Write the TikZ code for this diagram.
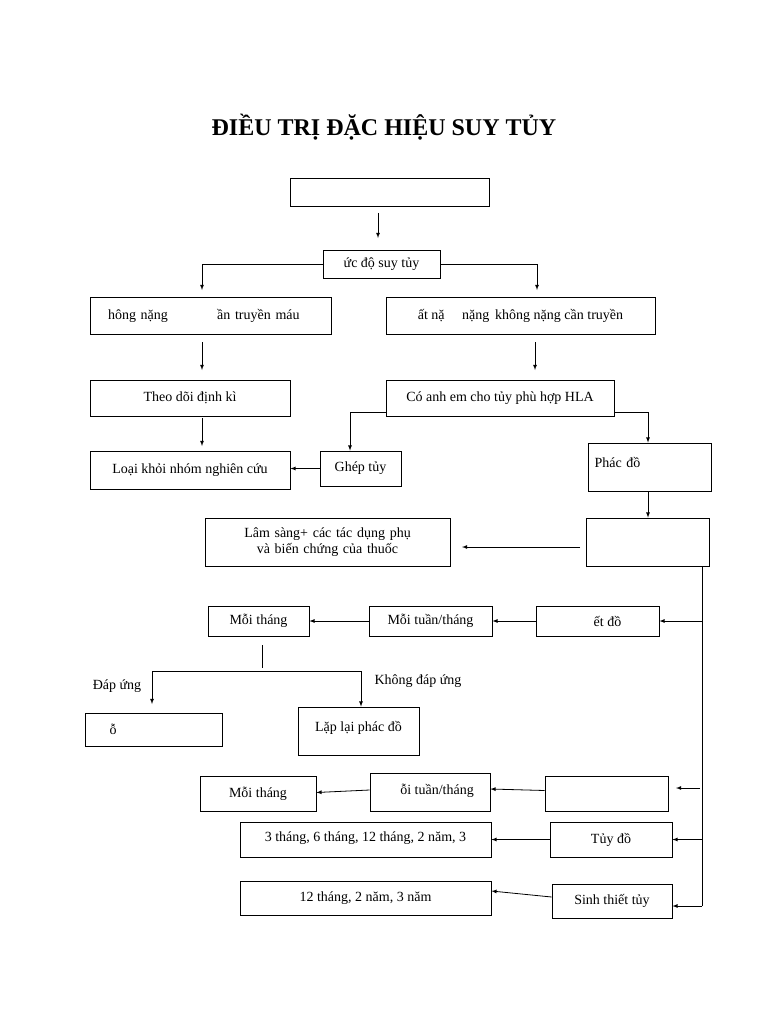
\documentclass[tikz,border=0pt]{standalone}
\usepackage{fontspec}
\setmainfont{Liberation Serif}
\usetikzlibrary{positioning,calc}
\tikzset{
  box/.style={draw, thick, inner sep=2pt, font=\fontsize{14}{16}\selectfont},
  arr/.style={-latex, thick},
  ln/.style={thick},
  lbl/.style={font=\fontsize{14}{16}\selectfont}
}
\begin{document}
\begin{tikzpicture}[x=1pt,y=-1pt]
    \useasboundingbox (0,0) rectangle (768,1024);
    % title
    \node[font=\bfseries\fontsize{24}{28}\selectfont] (title) at (384,127) {ĐIỀU TRỊ ĐẶC HIỆU SUY TỦY};

    % upper part
    \node[box, minimum width=199, minimum height=28] (top) at (389.5,192) {};
    \node[box, minimum width=117, minimum height=28] (muc) at (381.5,264) {ức độ suy tủy};
    \node[box, minimum width=241, minimum height=37, text width=233, align=left] (khong) at (210.5,315.5) {\hspace{14pt}hông nặng \hspace{40pt} ần truyền máu};
    \node[box, minimum width=269, minimum height=37] (nang) at (520.5,315.5) {ất nặ \quad nặng\, không nặng cần truyền};
    \node[box, minimum width=200, minimum height=36] (theo) at (190,398) {Theo dõi định kì};
    \node[box, minimum width=228, minimum height=36] (anhem) at (500,398) {Có anh em cho tủy phù hợp HLA};
    \node[box, minimum width=200, minimum height=38] (loai) at (190,470) {Loại khỏi nhóm nghiên cứu};
    \node[box, minimum width=81, minimum height=35] (ghep) at (360.5,468.5) {Ghép tủy};
    \node[box, minimum width=123, minimum height=48, text width=110, align=left] (phac) at (649.5,467) {\raisebox{10pt}{Phác đồ}};
    \node[box, minimum width=123, minimum height=48] (bt) at (647.5,542) {};
    \node[box, minimum width=245, minimum height=48, text width=235, align=center] (lam) at (327.5,542) {Lâm sàng+ các tác dụng phụ và biến chứng của thuốc};

    \coordinate (a1) at (378,213);
    \coordinate (a2) at (378,238);
    \draw[arr] (a1) -- (a2);
    \draw[arr] (muc.west) -| (202,290);
    \draw[arr] (muc.east) -| (537,290);
    \draw[arr] (202,342) -- (202,370);
    \draw[arr] (535,342) -- (535,370);
    \draw[arr] (theo.south) ++(12,2) -- (202,446);
    \draw[arr] ([yshift=4pt]anhem.south west) -| (ghep.north -| 350,0) ;
    \draw[arr] ([yshift=4pt]anhem.south east) -| (phac.north -| 648,0);
    \draw[arr] (ghep.west) -- (loai.east |- ghep.west);
    \draw[arr] (phac.south -| 648,0) -- (bt.north -| 648,0);
    \coordinate (b1) at (580,547);
    \coordinate (b2) at (462,547);
    \draw[arr] (b1) -- (b2);

    % middle part
    \node[box, minimum width=123, minimum height=30] (et) at (597.5,621) {\hspace{20pt}ết đồ};
    \node[box, minimum width=123, minimum height=30] (tuanA) at (430.5,621) {Mỗi tuần/tháng};
    \node[box, minimum width=101, minimum height=30] (thangA) at (258.5,621) {Mỗi tháng};
    \draw[arr] (et.west) -- (tuanA.east);
    \draw[arr] (tuanA.west) -- (thangA.east);
    \coordinate (s1) at (262,645);
    \coordinate (s2) at (262,668);
    \draw[ln] (s1) -- (s2);
    \draw[ln] (152,671) -- (361,671);
    \node[box, minimum width=137, minimum height=33, text width=128, align=left] (o) at (153.5,729.5) {\hspace{20pt}ỗ};
    \node[box, minimum width=121, minimum height=48] (lap) at (358.5,731) {\raisebox{10pt}{Lặp lại phác đồ}};
    \draw[arr] (152,671) -- (152,704);
    \draw[arr] (361,671) -- (lap.north -| 361,0);
    \node[lbl] (dap) at (117,686) {Đáp ứng};
    \node[lbl] (kdap) at (418,681) {Không đáp ứng};

    % lower part
    \node[box, minimum width=116, minimum height=35] (thangB) at (258,793.5) {Mỗi tháng};
    \node[box, minimum width=120, minimum height=38] (tuanB) at (430,792) {\raisebox{6pt}{\hspace{14pt}ỗi tuần/tháng}};
    \node[box, minimum width=123, minimum height=35] (btB) at (606.5,793.5) {};
    \draw[arr] ([yshift=3pt]btB.west) -- ([yshift=3pt]tuanB.east);
    \draw[arr] ([yshift=2pt]tuanB.west) -- ([yshift=1pt]thangB.east);
    \node[box, minimum width=251, minimum height=35] (ba) at (365.5,839.5) {\raisebox{5pt}{3 tháng, 6 tháng, 12 tháng, 2 năm, 3}};
    \node[box, minimum width=122, minimum height=35] (tuy) at (611,839.5) {Tủy đồ};
    \draw[arr] (tuy.west) -- (ba.east);
    \node[box, minimum width=251, minimum height=34] (mh) at (365.5,898) {\raisebox{3pt}{12 tháng, 2 năm, 3 năm}};
    \node[box, minimum width=120, minimum height=34] (sinh) at (612,901) {Sinh thiết tủy};
    \draw[arr] ([yshift=4pt]sinh.west) -- ([yshift=7pt]mh.east);

    % right rail
    \coordinate (r0) at (702,566);
    \coordinate (r1) at (702,906);
    \draw[ln] (r0) -- (r1);
    \draw[arr] (r0 |- et.east) -- (et.east);
    \draw[arr] (700,788) -- (676,788);
    \draw[arr] (r0 |- tuy.east) -- (tuy.east);
    \draw[arr] (r1) -- (sinh.east |- r1);
\end{tikzpicture}
\end{document}
